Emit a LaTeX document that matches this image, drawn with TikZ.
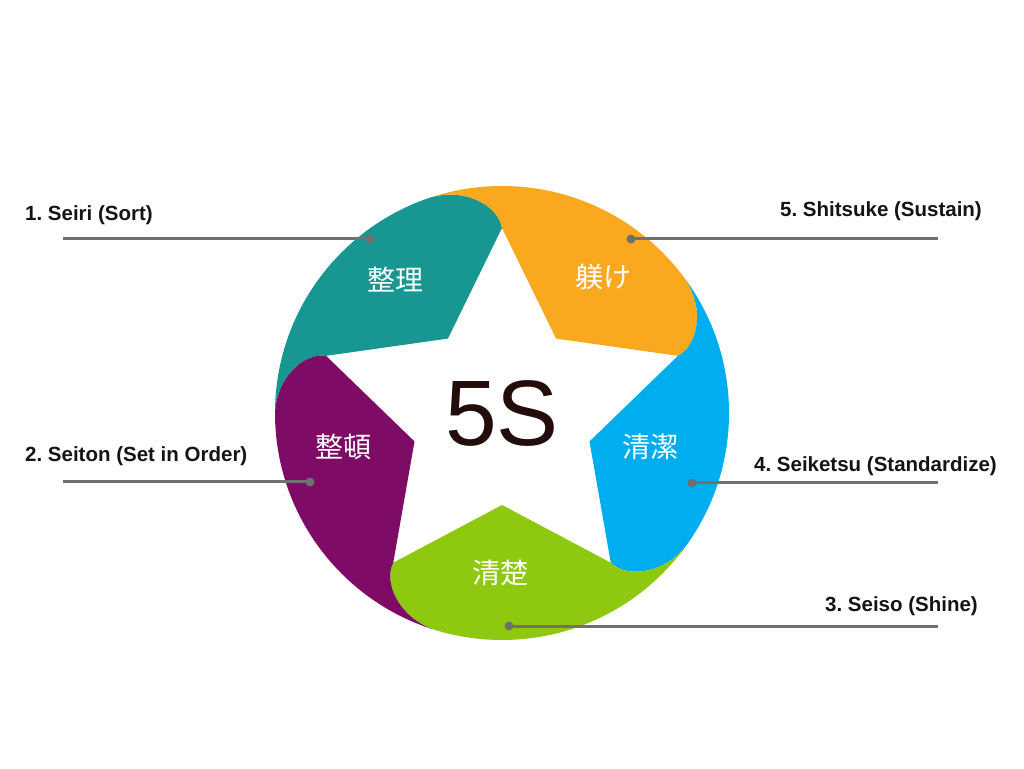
\documentclass[tikz,border=0pt]{standalone}
\usepackage{fontspec}
\setmainfont{Liberation Sans}
\newfontfamily\jpfont{Noto Sans CJK JP}
\newfontfamily\numfont{Liberation Sans}
\definecolor{tealF}{RGB}{24,150,145}
\definecolor{orangeF}{RGB}{250,168,30}
\definecolor{blueF}{RGB}{0,174,239}
\definecolor{greenF}{RGB}{142,201,16}
\definecolor{purpleF}{RGB}{126,11,101}
\definecolor{lineF}{RGB}{112,112,112}
\definecolor{darkF}{RGB}{35,12,12}
\definecolor{textF}{RGB}{20,20,20}
\frenchspacing
\begin{document}
\begin{tikzpicture}[x=1pt,y=1pt,
  lab/.style={inner sep=0pt,font=\fontsize{20.5}{22}\selectfont\bfseries,text=textF},
  jp/.style={inner sep=0pt,font=\jpfont\fontsize{28}{30}\selectfont,text=white},
  lead/.style={draw=lineF,line width=3pt},
  dotF/.style={circle,fill=lineF,inner sep=0pt,minimum size=9pt}]
\useasboundingbox (0,0) rectangle (1024,768);
\fill[white] (0,0) rectangle (1024,768);
\begin{scope}[shift={(502,355)}]
\clip (0,0) circle (227);
\foreach \t/\col in {90/tealF, 18/orangeF, -54/blueF, -126/greenF, 162/purpleF} {
  \fill[\col] (\t:185) -- ({\t+36}:92) -- ({\t+72}:185)
    .. controls ({\t+73}:207) and ({\t+81}:228) .. ({\t+90}:227)
    -- ({\t+90}:300) -- ({\t+18}:300) -- ({\t+18}:227)
    .. controls ({\t+9}:228) and ({\t+1}:207) .. (\t:185) -- cycle;
}
\end{scope}
\node[inner sep=0pt,font=\numfont\fontsize{93}{95}\selectfont,text=darkF] (fives) at (502,355) {5S};
\node[jp] (seiri) at (395,488) {整理};
\node[jp] (shitsuke) at (603,491) {躾け};
\node[jp] (seiton) at (343,321) {整頓};
\node[jp] (seiketsu) at (650,321) {清潔};
\node[jp] (seiso) at (500,195) {清楚};
% labels
\node[lab,anchor=base west] (l1) at (25,547) {1. Seiri (Sort)};
\node[lab,anchor=base west] (l2) at (25,306) {2. Seiton (Set in Order)};
\node[lab,anchor=base east] (l5) at (982,551) {5. Shitsuke (Sustain)};
\node[lab,anchor=base east] (l4) at (997,296) {4. Seiketsu (Standardize)};
\node[lab,anchor=base east] (l3) at (978,157) {3. Seiso (Shine)};
% leader lines
\coordinate (e1) at (63,529);
\coordinate (e2) at (63,286);
\coordinate (e5) at (938,529);
\coordinate (e4) at (938,285);
\coordinate (e3) at (938,142);
\node[dotF] (d1) at (370,529) {};
\node[dotF] (d2) at (310,286) {};
\node[dotF] (d5) at (631,529) {};
\node[dotF] (d4) at (692,285) {};
\node[dotF] (d3) at (509,142) {};
\draw[lead] (e1) -- (d1.center);
\draw[lead] (e2) -- (d2.center);
\draw[lead] (d5.center) -- (e5);
\draw[lead] (d4.center) -- (e4);
\draw[lead] (d3.center) -- (e3);
\end{tikzpicture}
\end{document}
